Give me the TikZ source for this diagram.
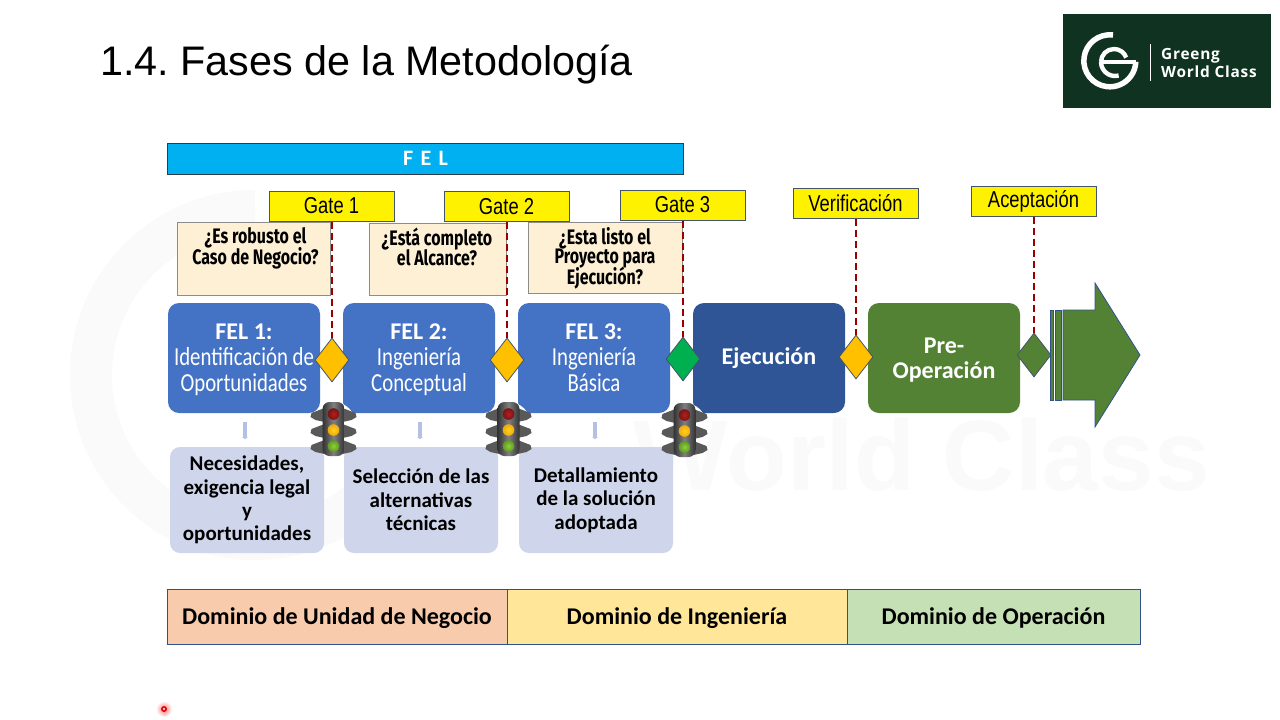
\documentclass[tikz,border=0pt]{standalone}
\usepackage{fontspec}
\setmainfont{Liberation Sans}
\newfontfamily\bodyf{Carlito}
\newfontfamily\narrowf[FakeStretch=0.80]{Carlito}
\newfontfamily\gatef[FakeStretch=0.80]{Liberation Sans}
\newfontfamily\questf[FakeStretch=0.76]{Fira Sans}
\newfontfamily\logof[LetterSpace=5]{Open Sans}
\usetikzlibrary{shapes.geometric,arrows.meta}
\definecolor{felblue}{HTML}{4472C4}
\definecolor{darkblue}{HTML}{2F5597}
\definecolor{opgreen}{HTML}{548235}
\definecolor{edge}{HTML}{44546A}
\definecolor{amber}{HTML}{FFC000}
\definecolor{gogreen}{HTML}{00B050}
\definecolor{quest}{HTML}{FDF0D5}
\definecolor{low}{HTML}{CFD5EA}
\definecolor{logog}{HTML}{0F3320}
\definecolor{wm}{HTML}{FAFAFA}
\definecolor{domA}{HTML}{F8CBAD}
\definecolor{domB}{HTML}{FFE699}
\definecolor{domC}{HTML}{C5E0B4}
\definecolor{felbar}{HTML}{00B0F0}
\definecolor{domedge}{HTML}{2F528F}
\definecolor{tick}{HTML}{B4C1E4}
\definecolor{lightR}{HTML}{B02020}
\definecolor{lightRo}{HTML}{7A1414}
\definecolor{lightY}{HTML}{FFD21E}
\definecolor{lightYo}{HTML}{EFA90E}
\definecolor{lightG}{HTML}{8FCF3A}
\definecolor{lightGo}{HTML}{5F9A22}
\tikzset{
 phase/.style={rounded corners=11pt,minimum width=152pt,minimum height=110pt,inner sep=0pt,align=center,text=white,font=\fontsize{26}{26}\selectfont\narrowf},
 phasebold/.style={phase,font=\fontsize{24}{25}\selectfont\bfseries\bodyf},
 gatebox/.style={draw=edge,line width=1pt,fill=yellow,minimum width=125pt,minimum height=30pt,inner sep=0pt,font=\fontsize{23}{26}\selectfont\gatef},
 questbox/.style={draw=black!45,line width=1pt,fill=quest,inner sep=0pt,anchor=north west},
 questtext/.style={anchor=north,align=center,inner sep=0pt,font=\fontsize{21}{20.5}\selectfont\bfseries\questf},
 lowbox/.style={rounded corners=10pt,fill=low,minimum width=154pt,minimum height=106pt,inner sep=0pt,align=center,font=\fontsize{21}{23.3}\selectfont\bfseries\bodyf},
 gem/.style={diamond,draw=edge,line width=0.8pt,minimum width=34pt,minimum height=44pt,inner sep=0pt,shape aspect=0.77},
 dashline/.style={draw=red!60!black,line width=1.7pt,dash pattern=on 7pt off 4pt},
 dombox/.style={draw=domedge,line width=1pt,minimum height=55pt,inner sep=0pt,text height=22pt,text depth=6pt,font=\fontsize{24}{26}\selectfont\bfseries\bodyf},
 tickmark/.style={draw=tick,line width=4pt,-{Triangle[length=2pt,width=6pt]}},
}
\newcommand{\felhead}[1]{{\fontsize{24}{26}\selectfont\bfseries\bodyf\rule{0pt}{19pt}#1}}
\newcommand{\tlight}[2]{%
 \begin{scope}[shift={(#1,#2)}]
  \fill[white] (0,-6) circle[radius=22pt];
  \foreach \yy in {-22,-6,10}{
   \fill[black!65] (-9,\yy) -- (-22,\yy+5) -- (-23,\yy+9) -- (-18,\yy+12) -- (-9,\yy+14) -- cycle;
   \fill[black!65] (9,\yy) -- (22,\yy+5) -- (23,\yy+9) -- (18,\yy+12) -- (9,\yy+14) -- cycle;
  }
  \shade[left color=black!80,right color=black!80,middle color=black!50,rounded corners=7pt] (-11,-28) rectangle (11,26);
  \shade[inner color=lightR,outer color=lightRo] (0,-16) circle[radius=5.8pt];
  \shade[inner color=lightY,outer color=lightYo] (0,0) circle[radius=5.8pt];
  \shade[inner color=lightG,outer color=lightGo] (0,16) circle[radius=5.8pt];
 \end{scope}}
\frenchspacing
\begin{document}
\begin{tikzpicture}[x=1pt,y=-1pt]
\useasboundingbox[fill=white] (0,0) rectangle (1280,720);
% watermark
\begin{scope}[shift={(255,375)},y=1pt]
 \draw[wm,line width=42pt] (0,164) arc[start angle=90,end angle=310,radius=164pt];
\end{scope}
\node[anchor=base east,inner sep=0pt,text=wm,font=\fontsize{100}{100}\selectfont\bfseries] (wmtext) at (1210,490) {World Class};
% title
\node[anchor=west,inner sep=0pt,font=\fontsize{41.3}{44}\selectfont] (title) at (100,65) {1.4. Fases de la Metodología};
% logo
\node[fill=logog,minimum width=208pt,minimum height=94pt,inner sep=0pt] (logo) at (1167,61) {};
\begin{scope}[shift={(1110,61)},y=1pt]
 \draw[white,line width=5.5pt] (3,26) arc[start angle=83,end angle=358,radius=26pt];
 \draw[white,line width=4.4pt] (26,-1) -- (-9,-1);
 \draw[white,line width=4.4pt] (-9,-1) arc[start angle=180,end angle=20,radius=13pt];
 \draw[white,line width=4.4pt] (-9,-1) arc[start angle=180,end angle=285,radius=14pt];
\end{scope}
\draw[white,line width=0.8pt] (1150.5,44) -- (1150.5,81);
\node[anchor=west,inner sep=0pt,text=white,font=\fontsize{15.4}{18.5}\selectfont\bfseries\logof,align=left] (logotext) at (1161,63) {Greeng\\World Class};
% FEL bar
\node[draw=edge!70!black,line width=1pt,fill=felbar,minimum width=516pt,minimum height=31pt,inner sep=0pt,text=white,font=\fontsize{22}{24}\selectfont\bfseries\bodyf] (fel) at (425.5,158.5) {F\,\,E\,\,L};
% phases
\node[phase,fill=felblue] (p1) at (244,358) {\felhead{FEL 1:}\\Identificación de\\Oportunidades};
\node[phase,fill=felblue] (p2) at (419,358) {\felhead{FEL 2:}\\Ingeniería\\Conceptual};
\node[phase,fill=felblue] (p3) at (594,358) {\felhead{FEL 3:}\\Ingeniería\\Básica\vphantom{g}};
\node[phasebold,fill=darkblue] (p4) at (769,358) {\raisebox{-1.5pt}{Ejecución}};
\node[phasebold,fill=opgreen] (p5) at (944,358) {\rule{0pt}{20pt}Pre-\\Operación};
% questions
\node[questbox,minimum width=153pt,minimum height=73pt] (q1) at (177,222) {};
\node[questtext] (q1t) at (255.5,227) {¿Es robusto el\\[-1.5pt]Caso de Negocio?};
\node[questbox,minimum width=137pt,minimum height=72pt] (q2) at (369,223) {};
\node[questtext] (q2t) at (437,228) {¿Está completo\\[-1.5pt]el Alcance?};
\node[questbox,minimum width=154pt,minimum height=71pt] (q3) at (528,222) {};
\node[questtext] (q3t) at (605,227) {¿Esta listo el\\[-1.5pt]Proyecto para\\[-1.5pt]Ejecución?};
% gates
\node[gatebox] (g1) at (331.5,206) {Gate 1};
\node[gatebox] (g2) at (506.5,206.5) {Gate 2};
\node[gatebox] (g3) at (682.5,205) {Gate 3};
\node[gatebox] (g4) at (855.5,203.5) {Verificación};
\node[gatebox] (g5) at (1033.5,201) {Aceptación};
% diamonds
\node[gem,fill=amber] (d1) at (332,360) {};
\node[gem,fill=amber] (d2) at (507,360) {};
\node[gem,fill=gogreen] (d3) at (683,359) {};
\node[gem,fill=amber] (d4) at (856,357) {};
\node[gem,fill=opgreen] (d5) at (1034,355) {};
\draw[dashline] (g1.south -| d1.north) -- (d1.north);
\draw[dashline] (g2.south -| d2.north) -- (d2.north);
\draw[dashline] (g3.south -| d3.north) -- (d3.north);
\draw[dashline] (g4.south -| d4.north) -- (d4.north);
\draw[dashline] (g5.south -| d5.north) -- (d5.north);
% final arrow
\filldraw[fill=opgreen,draw=domedge,line width=0.8pt] (1063,310) -- (1095,310) -- (1095,283) -- (1140,355) -- (1095,427) -- (1095,400) -- (1063,400) -- cycle;
\filldraw[fill=opgreen,draw=domedge,line width=0.8pt] (1055.5,310) rectangle (1061.5,400);
\filldraw[fill=opgreen,draw=domedge,line width=0.8pt] (1050,310) rectangle (1053.5,400);
% lower boxes
\node[lowbox] (b1) at (247,500) {Necesidades,\\exigencia legal\\y\\oportunidades};
\node[lowbox] (b2) at (421,500) {Selección de las\\alternativas\\técnicas};
\node[lowbox] (b3) at (596,500) {Detallamiento\\de la solución\\adoptada};
% small ticks
\coordinate (t1a) at (245,422); \coordinate (t1b) at (245,439);
\coordinate (t2a) at (420,422); \coordinate (t2b) at (420,439);
\coordinate (t3a) at (595,422); \coordinate (t3b) at (595,439);
\draw[tickmark] (t1a) -- (t1b);
\draw[tickmark] (t2a) -- (t2b);
\draw[tickmark] (t3a) -- (t3b);
% traffic lights
\tlight{333.5}{430}
\tlight{508.5}{430}
\tlight{684.5}{431}
% domains
\node[dombox,fill=domA,minimum width=340pt] (m1) at (337,616.5) {Dominio de Unidad de Negocio};
\node[dombox,fill=domB,minimum width=340pt] (m2) at (677,616.5) {Dominio de Ingeniería};
\node[dombox,fill=domC,minimum width=293pt] (m3) at (993.5,616.5) {Dominio de Operación};
% pointer
\shade[inner color=red!55,outer color=white] (164,709) circle[radius=8pt];
\draw[red!85!black,line width=1.4pt,fill=red!30] (164,709) circle[radius=2.2pt];
\end{tikzpicture}
\end{document}
